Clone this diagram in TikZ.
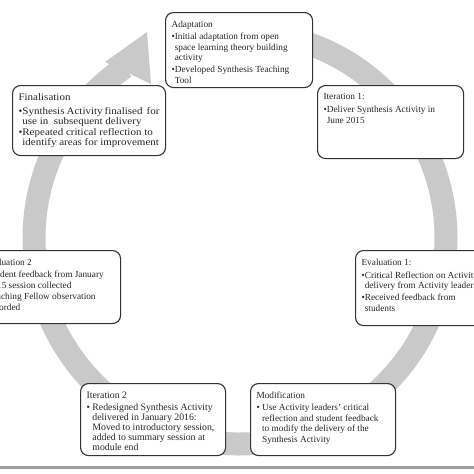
\documentclass[tikz,border=0pt]{standalone}
\usepackage{fontspec}
\setmainfont{Liberation Serif}
\newfontfamily\widefont[FakeStretch=1.1]{Liberation Serif}
\definecolor{ringgray}{HTML}{C9C9C9}
\definecolor{edgegray}{HTML}{333333}
% box text: width, height (px), content
\newcommand{\card}[3]{\parbox[t][\dimexpr#2pt-10pt\relax][t]{\dimexpr#1pt-12pt\relax}{\vspace*{3pt}#3}}
\newcommand{\bu}{\textbullet}
\newcommand{\ind}{\phantom{\textbullet}}
\newcommand{\indd}{\phantom{\textbullet\ }}

\begin{document}
\begin{tikzpicture}[x=1pt,y=-1pt,
	stage/.style={draw=edgegray, line width=1.1pt, rounded corners=8pt, fill=white, anchor=north west, inner xsep=6pt, inner ysep=5pt, text=black!85, font=\fontsize{9.3}{10.5}\selectfont},
	ring/.style={ringgray, line width=23pt}]
	\useasboundingbox (0,0) rectangle (474,474);
	\clip (0,0) rectangle (474,474);
	
	% cycle arrow behind the boxes
	\draw[ring] (240,238) ++(275:206) arc[start angle=275, end angle=596, radius=206];
	\fill[ringgray] (105,62) -- (147,32) -- (151,84) -- cycle;
	\draw[gray!75, line width=3pt] (0,467) -- (474,467);
	
	\node[stage] (adapt) at (165,12) {\card{147}{75}{Adaptation\\[2pt]
		\bu Initial adaptation from open\\ \ind space learning theory building\\ \ind activity\\[1.5pt]
		\bu Developed Synthesis Teaching\\ \ind Tool}};
	\node[stage, font=\widefont\fontsize{10}{9.8}\selectfont] (final) at (12,85) {\card{153}{70}{Finalisation\\[4pt]
		\bu Synthesis Activity finalised\ \ for\\ \ind use in\ \ subsequent delivery\\[1.5pt]
		\bu Repeated critical reflection to\\ \ind identify areas for improvement}};
	\node[stage] (iter1) at (317,85) {\card{146}{73}{Iteration 1:\\[2.5pt]
		\bu Deliver Synthesis Activity in\\ \ind June 2015}};
	\node[stage] (eval2) at (-22,250) {\card{142}{73}{Evaluation 2\\[2pt]
		\bu Student feedback from January\\ \ind 2015 session collected\\[1pt]
		\bu Teaching Fellow observation\\ \ind recorded}};
	\node[stage] (eval1) at (355,250) {\card{147}{75}{Evaluation 1:\\[2.5pt]
		\bu Critical Reflection on Activity\\ \ind delivery from Activity leaders\\[1.5pt]
		\bu Received feedback from\\ \ind students}};
	\node[stage, font=\fontsize{9.8}{9.8}\selectfont] (iter2) at (80,383) {\card{145}{72}{Iteration 2\\[3pt]
		\bu\ Redesigned Synthesis Activity\\ \indd delivered in January 2016:\\ \indd Moved to introductory session,\\ \indd added to summary session at\\ \indd module end}};
	\node[stage] (modif) at (250,383) {\card{145}{72}{Modification\\[2pt]
		\bu\ Use Activity leaders' critical\\ \indd reflection and student feedback\\ \indd to modify the delivery of the\\ \indd Synthesis Activity}};
\end{tikzpicture}
\end{document}
